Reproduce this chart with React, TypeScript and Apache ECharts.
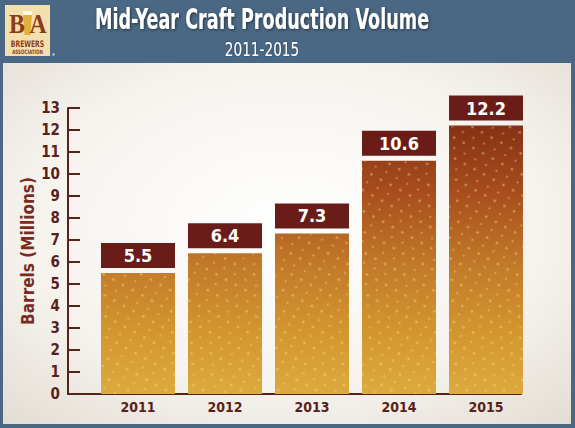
import React, { useEffect, useRef } from "react";
import * as echarts from "echarts";

const categories = ["2011", "2012", "2013", "2014", "2015"];
const volumes = [5.5, 6.4, 7.3, 10.6, 12.2];
const yMin = 0;
const yMax = 13;
const yStep = 1;
const titleText = "Mid-Year Craft Production Volume";
const subtitleText = "2011-2015";
const yAxisName = "Barrels (Millions)";

const W = 575;
const H = 428;
const PLOT_TOP = 108;
const PLOT_BOTTOM = 394;
const AXIS_LEFT = 68;
const AXIS_RIGHT = 521;
const BAND_LEFT = 94.5;
const BAND_RIGHT = 529.5;

const NARROW = "'Liberation Sans Narrow', 'DejaVu Sans Condensed', 'Arial Narrow', sans-serif";
const BROWN = "#5a2119";
const BOX = "#6a1d18";
const HEADER = "#4a6884";

export default function App() {
  const ref = useRef<HTMLDivElement>(null);

  useEffect(() => {
    document.body.style.margin = "0";
    if (!ref.current) return;
    const chart = echarts.init(ref.current, null, { renderer: "svg" });

    const beerGradient = new echarts.graphic.LinearGradient(
      0,
      PLOT_TOP,
      0,
      PLOT_BOTTOM,
      [
        { offset: 0, color: "#7c2a13" },
        { offset: 0.12, color: "#8e3817" },
        { offset: 0.3, color: "#a84e1d" },
        { offset: 0.55, color: "#c27a29" },
        { offset: 0.8, color: "#d4982f" },
        { offset: 1, color: "#dcaa40" },
      ],
      true
    );

    const panelGradient = new echarts.graphic.RadialGradient(0.5, 0.45, 0.75, [
      { offset: 0, color: "#ffffff" },
      { offset: 0.6, color: "#f6f3ee" },
      { offset: 1, color: "#e2ddd3" },
    ]);

    const option: any = {
      animation: false,
      graphic: [
        { type: "rect", z: -20, silent: true, shape: { x: 0, y: 0, width: W, height: H }, style: { fill: HEADER } },
        { type: "rect", z: -19, silent: true, shape: { x: 3, y: 63, width: 568, height: 361 }, style: { fill: panelGradient } },
        {
          type: "text",
          z: 10,
          x: 262,
          y: 20,
          scaleX: 0.7,
          style: {
            text: titleText,
            fill: "#ffffff",
            font: `bold 28px ${NARROW}`,
            textAlign: "center",
            textVerticalAlign: "middle",
            textShadowColor: "rgba(0,0,0,0.5)",
            textShadowBlur: 3,
            textShadowOffsetX: 1,
            textShadowOffsetY: 1,
          },
        },
        {
          type: "text",
          z: 10,
          x: 262,
          y: 49,
          scaleX: 0.8,
          style: {
            text: subtitleText,
            fill: "#ffffff",
            font: `19px ${NARROW}`,
            textAlign: "center",
            textVerticalAlign: "middle",
            textShadowColor: "rgba(0,0,0,0.4)",
            textShadowBlur: 2,
          },
        },
        // logo
        { type: "rect", z: 10, shape: { x: 5, y: 5, width: 45, height: 51 }, style: { fill: "#f3dfae" } },
        {
          type: "polygon",
          z: 11,
          shape: { points: [[23, 12], [32, 12], [30.5, 35], [24.5, 35]] },
          style: { fill: "#e0b23a" },
        },
        { type: "rect", z: 12, shape: { x: 23, y: 11, width: 9, height: 4 }, style: { fill: "#fff8e6" } },
        {
          type: "text",
          z: 13,
          x: 17,
          y: 24,
          scaleX: 0.85,
          style: { text: "B", fill: "#8e3c17", font: "bold 28px 'Liberation Serif', serif", textAlign: "center", textVerticalAlign: "middle" },
        },
        {
          type: "text",
          z: 13,
          x: 38,
          y: 24,
          scaleX: 0.85,
          style: { text: "A", fill: "#8e3c17", font: "bold 28px 'Liberation Serif', serif", textAlign: "center", textVerticalAlign: "middle" },
        },
        {
          type: "text",
          z: 13,
          x: 27.5,
          y: 44,
          scaleX: 0.75,
          style: { text: "BREWERS", fill: "#8e3c17", font: `bold 9px ${NARROW}`, textAlign: "center", textVerticalAlign: "middle" },
        },
        {
          type: "text",
          z: 13,
          x: 27.5,
          y: 51.5,
          scaleX: 0.75,
          style: { text: "ASSOCIATION", fill: "#8e3c17", font: `bold 6px ${NARROW}`, textAlign: "center", textVerticalAlign: "middle" },
        },
        { type: "circle", z: 13, shape: { cx: 53.5, cy: 54.5, r: 1.2 }, style: { fill: "#c9d4de" } },
      ],
      grid: [
        { left: AXIS_LEFT, right: W - AXIS_RIGHT, top: PLOT_TOP, bottom: H - PLOT_BOTTOM },
        { left: BAND_LEFT, right: W - BAND_RIGHT, top: PLOT_TOP, bottom: H - PLOT_BOTTOM },
      ],
      xAxis: [
        {
          gridIndex: 0,
          type: "value",
          min: 0,
          max: 1,
          axisLine: { show: true, onZero: false, lineStyle: { color: BROWN, width: 2 } },
          axisTick: { show: false },
          axisLabel: { show: false },
          splitLine: { show: false },
        },
        {
          gridIndex: 1,
          type: "category",
          data: categories,
          axisLine: { show: false },
          axisTick: { show: false },
          axisLabel: { margin: 6, color: BROWN, fontFamily: NARROW, fontWeight: "bold", fontSize: 14 },
        },
      ],
      yAxis: [
        {
          gridIndex: 0,
          type: "value",
          min: yMin,
          max: yMax,
          interval: yStep,
          axisLine: { show: true, lineStyle: { color: BROWN, width: 2 } },
          axisTick: { show: true, inside: true, length: 12, lineStyle: { color: BROWN, width: 2 } },
          axisLabel: { margin: 8, color: BROWN, fontFamily: NARROW, fontWeight: "bold", fontSize: 15 },
          splitLine: { show: false },
          name: yAxisName,
          nameLocation: "middle",
          nameGap: 32,
          nameMoveOverlap: false,
          nameRotate: 90,
          nameTextStyle: { color: "#7a2b20", fontFamily: NARROW, fontWeight: "bold", fontSize: 17 },
        },
        { gridIndex: 1, type: "value", min: yMin, max: yMax, interval: yStep, show: false },
      ],
      series: [
        {
          type: "bar",
          xAxisIndex: 1,
          yAxisIndex: 1,
          data: volumes,
          barWidth: 74,
          itemStyle: {
            color: beerGradient,
            decal: {
              symbol: "circle",
              symbolSize: 0.65,
              color: "rgba(255, 226, 150, 0.45)",
              dashArrayX: [[5, 6], [3, 9]],
              dashArrayY: [4, 5],
              rotation: 0.5,
            },
          },
          label: {
            show: true,
            position: "top",
            distance: 5,
            formatter: (p: any) => p.value.toFixed(1),
            backgroundColor: BOX,
            color: "#ffffff",
            fontFamily: NARROW,
            fontWeight: "bold",
            fontSize: 18,
            width: 74,
            height: 25,
            lineHeight: 25,
            align: "center",
            padding: 0,
          },
        },
      ],
    };

    chart.setOption(option);
    return () => chart.dispose();
  }, []);

  return <div ref={ref} style={{ width: W, height: H }} />;
}
